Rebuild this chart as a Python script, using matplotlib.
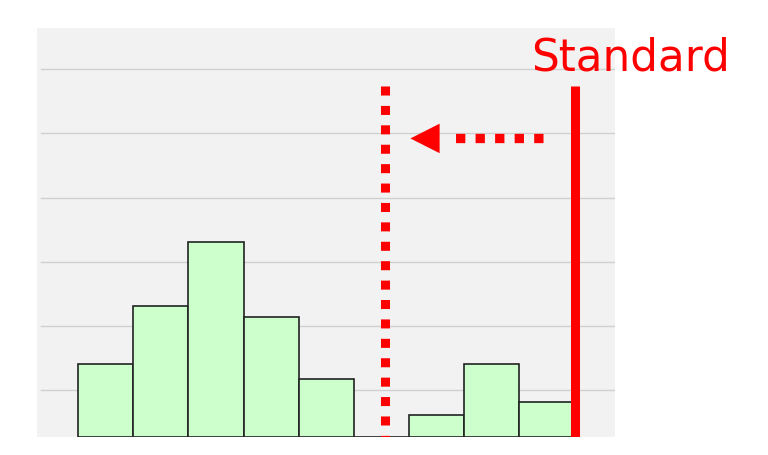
import matplotlib.pyplot as plt
from matplotlib.patches import Polygon

# histogram bins (index) and counts, bin 5 is empty
bins = [0, 1, 2, 3, 4, 5, 6, 7, 8]
counts = [11.3, 20.4, 30.3, 18.7, 9.0, 0, 3.4, 11.3, 5.4]
gridlines = [7.3, 17.3, 27.3, 37.3, 47.3, 57.3]

standard = 9.02      # solid red line
new_limit = 5.57     # dotted red line
line_top = 54.6
arrow_y = 46.5
arrow_start = 8.43
arrow_tip = 6.03

fig = plt.figure(figsize=(7.68, 4.55), dpi=100)
ax = fig.add_axes([37 / 768, 18 / 455, (615.3 - 37) / 768, (437 - 28) / 455])
ax.set_facecolor("#f2f2f2")
ax.set_xlim(-0.75, 9.75)
ax.set_ylim(0, 63.7)
for s in ax.spines.values():
    s.set_visible(False)
ax.set_xticks([])
ax.set_yticks([])

for g in gridlines:
    ax.axhline(g, xmin=0.007, color="#d0d0d0", lw=1, zorder=1)

ax.bar(bins, counts, width=1.0, align="edge", color="#ccffcc",
       edgecolor="#222222", linewidth=1.2, zorder=2)

# standard (solid) and new limit (dotted)
ax.plot([standard, standard], [0, line_top], color="red", lw=6.5,
        solid_capstyle="butt", zorder=3)
ax.plot([new_limit, new_limit], [line_top, -1], color="red", lw=6.5,
        linestyle=(0, (1, 1.15)), dash_capstyle="butt", zorder=3)

# dotted arrow pointing left
ax.plot([arrow_start, arrow_tip + 0.78], [arrow_y, arrow_y], color="red", lw=6.7,
        linestyle=(0, (1, 1.1)), dash_capstyle="butt", zorder=3)
head = Polygon([[arrow_tip, arrow_y], [arrow_tip + 0.53, arrow_y + 2.3],
                [arrow_tip + 0.53, arrow_y - 2.3]], closed=True,
               color="red", lw=0, zorder=3)
ax.add_patch(head)

ax.text(8.23, 57.05, "Standard", color="red", fontsize=31.5,
        va="baseline", ha="left", clip_on=False, zorder=4)

fig.savefig("out.png", dpi=100)
